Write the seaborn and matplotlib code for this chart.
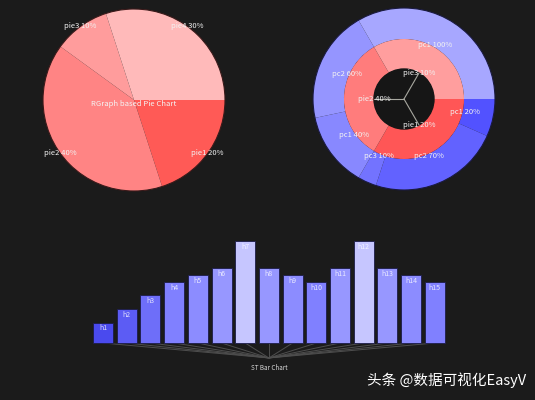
import numpy as np
import pandas as pd
import matplotlib
matplotlib.use("Agg")
from matplotlib import pyplot as plt
from matplotlib.colors import LinearSegmentedColormap
import seaborn as sns

# === DATA
pie_labels = ["pie1 20%", "pie2 40%", "pie3 10%", "pie4 30%"]
pie_values = [20, 40, 10, 30]
pie_colors = ["#ff5a56", "#ff8484", "#ff9c9c", "#ffbaba"]

ring_labels = ["pie1 20%", "pie2 40%", "pie3 10%"]
ring_values = [1, 1, 1]  # drawn as equal thirds
ring_colors = ["#ff5656", "#ff7c7c", "#ff9e9e"]

outer_labels = ["pc1 20%", "pc2 70%", "pc3 10%", "pc1 40%", "pc2 60%", "pc1 100%"]
outer_values = [20, 70, 10, 40, 60, 100]  # percent of parent segment
outer_parent = [0, 0, 0, 1, 1, 2]
outer_colors = ["#5252ff", "#6262ff", "#7373ff", "#8888ff", "#9595ff", "#a7a7ff"]

bar_labels = ["h%d" % i for i in range(1, 16)]
bar_values = [3, 5, 7, 9, 10, 11, 15, 11, 10, 9, 11, 15, 11, 10, 9]

BG = "#1b1b1b"

sns.set_theme(style="dark", rc={"figure.facecolor": BG, "axes.facecolor": BG})
plt.rcParams["font.family"] = ["Noto Sans CJK SC", "DejaVu Sans"]

fig = plt.figure(figsize=(5.35, 4.0), dpi=100)
W, H = 535, 400


def px_axes(cx, cy, size):
    return fig.add_axes([(cx - size / 2) / W, (H - cy - size / 2) / H, size / W, size / H])


# === LEFT PIE
ax1 = px_axes(134, 100, 200)
ax1.set_facecolor(BG)
wedges, texts = ax1.pie(
    pie_values, colors=pie_colors, radius=0.91, startangle=0, counterclock=False,
    labels=pie_labels, labeldistance=1.0,
    wedgeprops=dict(edgecolor="none"),
    textprops=dict(color="#f2f2f2", fontsize=5.5),
)
for t in texts:
    t.set_ha("center")
    t.set_va("center")
ax1.add_patch(plt.Circle((0, 0), 0.91, fill=False, ec="#3a1a1a", lw=0.8))
ax1.text(0, -0.04, "RGraph based Pie Chart", color="#f4f4f4", fontsize=5.5,
         ha="center", va="center")
ax1.set_xlim(-1, 1)
ax1.set_ylim(-1, 1)
ax1.set_aspect("equal")
ax1.axis("off")

# === RIGHT DONUT
ax2 = px_axes(404, 99, 200)
ax2.set_facecolor(BG)
outer_sizes = [ring_values[p] * v / 100 for p, v in zip(outer_parent, outer_values)]
w_out, t_out = ax2.pie(
    outer_sizes, colors=outer_colors, radius=0.91, startangle=0, counterclock=False,
    labels=outer_labels, labeldistance=0.68,
    wedgeprops=dict(width=0.31, edgecolor="none"),
    textprops=dict(color="#f2f2f2", fontsize=5.5),
)
w_mid, t_mid = ax2.pie(
    ring_values, colors=ring_colors, radius=0.60, startangle=0, counterclock=False,
    labels=ring_labels, labeldistance=0.5,
    wedgeprops=dict(width=0.30, edgecolor="none"),
    textprops=dict(color="#f2f2f2", fontsize=5.5),
)
for t in t_out + t_mid:
    t.set_ha("center")
    t.set_va("center")
    t.set_zorder(5)
ax2.add_patch(plt.Circle((0, 0), 0.30, color="#161616", zorder=3))
ax2.add_patch(plt.Circle((0, 0), 0.91, fill=False, ec="#1a1a40", lw=0.8))
# leader lines in the hole
for w in w_mid:
    ang = np.deg2rad((w.theta1 + w.theta2) / 2)
    ax2.plot([0, 0.30 * np.cos(ang)], [0, 0.30 * np.sin(ang)], color="#a8a8a0",
             lw=0.8, zorder=4)
ax2.set_xlim(-1, 1)
ax2.set_ylim(-1, 1)
ax2.set_aspect("equal")
ax2.axis("off")

# === BAR CHART
slot = 23.7
unit = 6.8
left_px = 103 - slot / 2
ax3 = fig.add_axes([left_px / W, (H - 380) / H, 15 * slot / W, 145 / H])
ax3.set_facecolor(BG)
df = pd.DataFrame({"name": bar_labels, "value": bar_values})
cmap = LinearSegmentedColormap.from_list("b", ["#4a4aee", "#8080ff", "#c6c6ff"])
vmin, vmax = min(bar_values), max(bar_values)
palette = {n: cmap((v - vmin) / (vmax - vmin)) for n, v in zip(bar_labels, bar_values)}
sns.barplot(data=df, x="name", y="value", hue="name", palette=palette, legend=False,
            width=20 / slot, edgecolor="#1c1c48", linewidth=0.6, saturation=1, ax=ax3)
for i, (n, v) in enumerate(zip(bar_labels, bar_values)):
    ax3.text(i, v - 0.85, n, color="#ffffff", alpha=0.8, fontsize=5,
             ha="center", va="center")
    ax3.plot([i, 7], [0, -2.2], color="#4e4e4e", lw=0.7, zorder=0)
ax3.text(7, -3.7, "ST Bar Chart", color="#d8d8d8", fontsize=4.5, ha="center", va="center")
ax3.set_xlim(-0.5, 14.5)
ax3.set_ylim(-37 / unit, 108 / unit)
ax3.axis("off")

# watermark
fig.text(0.686, (H - 380) / H, "头条 @数据可视化EasyV", color="#ffffff", fontsize=10.5,
         ha="left", va="center")

plt.savefig("out.png", dpi=100, facecolor=BG)
